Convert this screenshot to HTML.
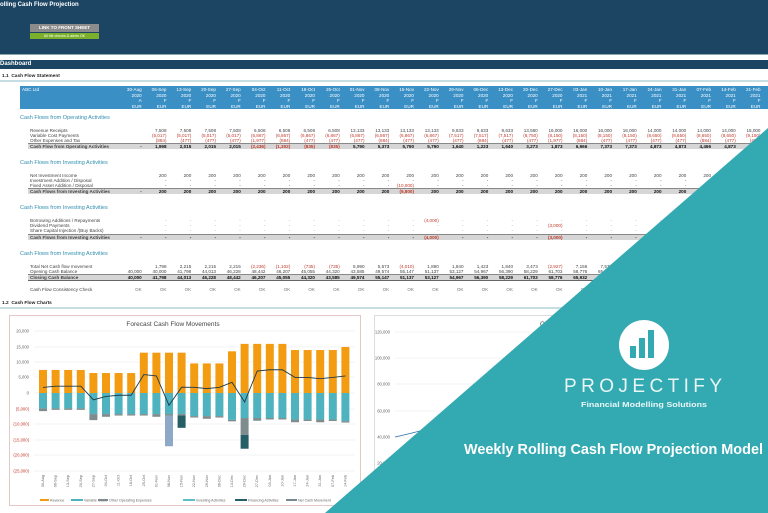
<!DOCTYPE html>
<html><head><meta charset="utf-8"><style>
*{margin:0;padding:0;box-sizing:border-box}
body{width:768px;height:513px;overflow:hidden;background:#fff;font-family:"Liberation Sans",sans-serif;position:relative}
.a{position:absolute}
.r{position:absolute;left:118px;display:flex;font-size:4.6px;line-height:5px;color:#444}
.r span{width:24.75px;text-align:right;flex:none;padding-right:1px}
.n{color:#c0392b}
.b{font-weight:bold;color:#111}
.lbl{position:absolute;left:30px;font-size:4.6px;line-height:5px;color:#444}
.sec{position:absolute;left:20px;font-size:5.5px;color:#2f8fb0}
.tot{position:absolute;left:28px;width:740px;height:6px;background:#d6d6d6;border-top:1px solid #888}
</style></head><body>
<div class="a" style="left:0;top:0;width:768px;height:55px;background:#1b4563;border-bottom:1px solid #8aa"></div>
<div class="a" style="left:0;top:2px;font-size:6px;font-weight:bold;color:#fff">olling Cash Flow Projection</div>
<div class="a" style="left:30px;top:24px;width:69px;height:8px;background:#8c8c8c;color:#fff;font-size:4.5px;font-weight:bold;text-align:center;line-height:8px">LINK TO FRONT SHEET</div>
<div class="a" style="left:30px;top:33px;width:69px;height:6px;background:#7cb02c;color:#fff;font-size:3.6px;text-align:center;line-height:6px">All file checks &amp; alerts OK</div>
<div class="a" style="left:0;top:60px;width:768px;height:9px;background:#1b4563;color:#fff;font-size:6px;font-weight:bold;line-height:9px">Dashboard</div>
<div class="a" style="left:2px;top:74px;font-size:4.8px;font-weight:bold;color:#222">1.1 &nbsp;Cash Flow Statement</div>
<div class="a" style="left:0;top:80px;width:768px;height:2px;background:#c7dde4"></div>
<div class="a" style="left:20px;top:86px;width:748px;height:23px;background:#3a8fc4"></div>
<div class="a" style="left:22px;top:87px;font-size:4.6px;color:#fff">ABC Ltd</div>
<div class="r" style="top:87px;color:#fff"><span>30-Aug</span><span>06-Sep</span><span>13-Sep</span><span>20-Sep</span><span>27-Sep</span><span>04-Oct</span><span>11-Oct</span><span>18-Oct</span><span>25-Oct</span><span>01-Nov</span><span>08-Nov</span><span>15-Nov</span><span>22-Nov</span><span>29-Nov</span><span>06-Dec</span><span>13-Dec</span><span>20-Dec</span><span>27-Dec</span><span>03-Jan</span><span>10-Jan</span><span>17-Jan</span><span>24-Jan</span><span>31-Jan</span><span>07-Feb</span><span>14-Feb</span><span>21-Feb</span></div>
<div class="r" style="top:92.5px;color:#fff"><span>2020</span><span>2020</span><span>2020</span><span>2020</span><span>2020</span><span>2020</span><span>2020</span><span>2020</span><span>2020</span><span>2020</span><span>2020</span><span>2020</span><span>2020</span><span>2020</span><span>2020</span><span>2020</span><span>2020</span><span>2020</span><span>2021</span><span>2021</span><span>2021</span><span>2021</span><span>2021</span><span>2021</span><span>2021</span><span>2021</span></div>
<div class="r" style="top:98px;color:#fff"><span>A</span><span>F</span><span>F</span><span>F</span><span>F</span><span>F</span><span>F</span><span>F</span><span>F</span><span>F</span><span>F</span><span>F</span><span>F</span><span>F</span><span>F</span><span>F</span><span>F</span><span>F</span><span>F</span><span>F</span><span>F</span><span>F</span><span>F</span><span>F</span><span>F</span><span>F</span></div>
<div class="r" style="top:103.5px;color:#fff"><span>EUR</span><span>EUR</span><span>EUR</span><span>EUR</span><span>EUR</span><span>EUR</span><span>EUR</span><span>EUR</span><span>EUR</span><span>EUR</span><span>EUR</span><span>EUR</span><span>EUR</span><span>EUR</span><span>EUR</span><span>EUR</span><span>EUR</span><span>EUR</span><span>EUR</span><span>EUR</span><span>EUR</span><span>EUR</span><span>EUR</span><span>EUR</span><span>EUR</span><span>EUR</span></div>

<div class="sec" style="top:115px">Cash Flows from Operating Activities</div>
<div class="lbl" style="top:128px">Revenue Receipts</div>
<div class="lbl" style="top:133px">Variable Cost Payments</div>
<div class="lbl" style="top:138px">Other Expenses and Tax</div>
<div class="tot" style="top:143px"></div>
<div class="lbl b" style="top:144px">Cash Flow from Operating Activities</div>
<div class="r" style="top:128px"><span></span><span>7,508</span><span>7,508</span><span>7,508</span><span>7,508</span><span>6,508</span><span>6,508</span><span>6,508</span><span>6,508</span><span>13,133</span><span>13,133</span><span>13,133</span><span>13,133</span><span>9,633</span><span>9,633</span><span>9,633</span><span>13,580</span><span>16,000</span><span>16,000</span><span>16,000</span><span>16,000</span><span>14,000</span><span>14,000</span><span>14,000</span><span>14,000</span><span>15,000</span></div>
<div class="r n" style="top:133px"><span></span><span>(5,017)</span><span>(5,017)</span><span>(5,017)</span><span>(5,017)</span><span>(6,867)</span><span>(6,867)</span><span>(6,867)</span><span>(6,867)</span><span>(6,867)</span><span>(6,867)</span><span>(6,867)</span><span>(6,867)</span><span>(7,517)</span><span>(7,517)</span><span>(7,517)</span><span>(8,750)</span><span>(8,150)</span><span>(8,150)</span><span>(8,150)</span><span>(8,150)</span><span>(8,650)</span><span>(8,650)</span><span>(8,650)</span><span>(8,650)</span><span>(9,150)</span></div>
<div class="r n" style="top:138px"><span></span><span>(884)</span><span>(477)</span><span>(477)</span><span>(477)</span><span>(1,977)</span><span>(884)</span><span>(477)</span><span>(477)</span><span>(477)</span><span>(884)</span><span>(477)</span><span>(477)</span><span>(477)</span><span>(884)</span><span>(477)</span><span>(477)</span><span>(1,977)</span><span>(884)</span><span>(477)</span><span>(477)</span><span>(477)</span><span>(477)</span><span>(884)</span><span>(477)</span><span>(477)</span></div>
<div class="r b" style="top:144px"><span>-</span><span>1,998</span><span>2,015</span><span>2,015</span><span>2,015</span><span class="n">(2,436)</span><span class="n">(1,302)</span><span class="n">(835)</span><span class="n">(835)</span><span>5,790</span><span>5,373</span><span>5,790</span><span>5,790</span><span>1,640</span><span>1,223</span><span>1,640</span><span>3,273</span><span>1,873</span><span>6,966</span><span>7,373</span><span>7,373</span><span>4,873</span><span>4,873</span><span>4,466</span><span>4,873</span><span>5,373</span></div>

<div class="sec" style="top:160px">Cash Flows from Investing Activities</div>
<div class="lbl" style="top:173px">Net Investment Income</div>
<div class="lbl" style="top:178px">Investment Addition / Disposal</div>
<div class="lbl" style="top:183px">Fixed Asset Addition / Disposal</div>
<div class="tot" style="top:188px"></div>
<div class="lbl b" style="top:189px">Cash Flows from Investing Activities</div>
<div class="r" style="top:173px"><span></span><span>200</span><span>200</span><span>200</span><span>200</span><span>200</span><span>200</span><span>200</span><span>200</span><span>200</span><span>200</span><span>200</span><span>200</span><span>200</span><span>200</span><span>200</span><span>200</span><span>200</span><span>200</span><span>200</span><span>200</span><span>200</span><span>200</span><span>200</span><span>200</span><span>200</span></div>
<div class="r" style="top:178px"><span></span><span>-</span><span>-</span><span>-</span><span>-</span><span>-</span><span>-</span><span>-</span><span>-</span><span>-</span><span>-</span><span>-</span><span>-</span><span>-</span><span>-</span><span>-</span><span>-</span><span>-</span><span>-</span><span>-</span><span>-</span><span>-</span><span>-</span><span>-</span><span>-</span><span>-</span></div>
<div class="r" style="top:183px"><span></span><span>-</span><span>-</span><span>-</span><span>-</span><span>-</span><span>-</span><span>-</span><span>-</span><span>-</span><span>-</span><span class="n">(10,000)</span><span>-</span><span>-</span><span>-</span><span>-</span><span>-</span><span>-</span><span>-</span><span>-</span><span>-</span><span>-</span><span>-</span><span>-</span><span>-</span><span>-</span></div>
<div class="r b" style="top:189px"><span>-</span><span>200</span><span>200</span><span>200</span><span>200</span><span>200</span><span>200</span><span>200</span><span>200</span><span>200</span><span>200</span><span class="n">(9,800)</span><span>200</span><span>200</span><span>200</span><span>200</span><span>200</span><span>200</span><span>200</span><span>200</span><span>200</span><span>200</span><span>200</span><span>200</span><span>200</span><span>200</span></div>

<div class="sec" style="top:205px">Cash Flows from Investing Activities</div>
<div class="lbl" style="top:218px">Borrowing Additions / Repayments</div>
<div class="lbl" style="top:223px">Dividend Payments</div>
<div class="lbl" style="top:228px">Share Capital Injection /(Buy Backs)</div>
<div class="tot" style="top:234px"></div>
<div class="lbl b" style="top:235px">Cash Flows from Investing Activities</div>
<div class="r" style="top:218px;color:#999"><span></span><span>-</span><span>-</span><span>-</span><span>-</span><span>-</span><span>-</span><span>-</span><span>-</span><span>-</span><span>-</span><span>-</span><span class="n">(4,000)</span><span>-</span><span>-</span><span>-</span><span>-</span><span>-</span><span>-</span><span>-</span><span>-</span><span>-</span><span>-</span><span>-</span><span>-</span><span>-</span></div>
<div class="r" style="top:223px;color:#999"><span></span><span>-</span><span>-</span><span>-</span><span>-</span><span>-</span><span>-</span><span>-</span><span>-</span><span>-</span><span>-</span><span>-</span><span>-</span><span>-</span><span>-</span><span>-</span><span>-</span><span class="n">(3,000)</span><span>-</span><span>-</span><span>-</span><span>-</span><span>-</span><span>-</span><span>-</span><span>-</span></div>
<div class="r" style="top:228px;color:#999"><span></span><span>-</span><span>-</span><span>-</span><span>-</span><span>-</span><span>-</span><span>-</span><span>-</span><span>-</span><span>-</span><span>-</span><span>-</span><span>-</span><span>-</span><span>-</span><span>-</span><span>-</span><span>-</span><span>-</span><span>-</span><span>-</span><span>-</span><span>-</span><span>-</span><span>-</span></div>
<div class="r b" style="top:235px"><span>-</span><span>-</span><span>-</span><span>-</span><span>-</span><span>-</span><span>-</span><span>-</span><span>-</span><span>-</span><span>-</span><span>-</span><span class="n">(4,000)</span><span>-</span><span>-</span><span>-</span><span>-</span><span class="n">(3,000)</span><span>-</span><span>-</span><span>-</span><span>-</span><span>-</span><span>-</span><span>-</span><span>-</span></div>

<div class="sec" style="top:251px">Cash Flows from Investing Activities</div>
<div class="lbl" style="top:264px">Total Net Cash flow movement</div>
<div class="lbl" style="top:269px">Opening Cash Balance</div>
<div class="tot" style="top:274px;border-bottom:1px solid #666;height:7px"></div>
<div class="lbl b" style="top:275px">Closing Cash Balance</div>
<div class="r" style="top:264px"><span></span><span>1,798</span><span>2,215</span><span>2,215</span><span>2,215</span><span class="n">(2,236)</span><span class="n">(1,102)</span><span class="n">(735)</span><span class="n">(735)</span><span>5,990</span><span>5,573</span><span class="n">(4,010)</span><span>1,890</span><span>1,840</span><span>1,423</span><span>1,840</span><span>3,473</span><span class="n">(2,927)</span><span>7,156</span><span>7,573</span><span>7,573</span><span>5,073</span><span>5,073</span><span>4,666</span><span>5,073</span><span>5,573</span></div>
<div class="r" style="top:269px"><span>40,000</span><span>40,000</span><span>41,798</span><span>44,013</span><span>46,228</span><span>48,442</span><span>46,207</span><span>45,055</span><span>44,320</span><span>43,585</span><span>49,574</span><span>55,147</span><span>51,137</span><span>53,127</span><span>54,967</span><span>56,390</span><span>58,229</span><span>61,703</span><span>58,776</span><span>65,932</span><span>73,505</span><span>81,078</span><span>86,151</span><span>91,224</span><span>95,890</span><span>100,963</span></div>
<div class="r b" style="top:275px"><span>40,000</span><span>41,798</span><span>44,013</span><span>46,228</span><span>48,442</span><span>46,207</span><span>45,055</span><span>44,320</span><span>43,585</span><span>49,574</span><span>55,147</span><span>51,137</span><span>53,127</span><span>54,967</span><span>56,390</span><span>58,229</span><span>61,703</span><span>58,776</span><span>65,932</span><span>73,505</span><span>81,078</span><span>86,151</span><span>91,224</span><span>95,890</span><span>100,963</span><span>106,536</span></div>
<div class="lbl" style="top:287px">Cash Flow Consistency Check</div>
<div class="r" style="top:287px;color:#777"><span>OK</span><span>OK</span><span>OK</span><span>OK</span><span>OK</span><span>OK</span><span>OK</span><span>OK</span><span>OK</span><span>OK</span><span>OK</span><span>OK</span><span>OK</span><span>OK</span><span>OK</span><span>OK</span><span>OK</span><span>OK</span><span>OK</span><span>OK</span><span>OK</span><span>OK</span><span>OK</span><span>OK</span><span>OK</span><span>OK</span></div>

<div class="a" style="left:2px;top:301px;font-size:4.8px;font-weight:bold;color:#222">1.2 &nbsp;Cash Flow Charts</div>
<div class="a" style="left:0;top:307px;width:768px;height:2px;background:#c7dde4"></div>

<svg class="a" style="left:0;top:0" width="768" height="513" font-family="Liberation Sans, sans-serif">
<rect x="9.5" y="315.5" width="351" height="190" fill="#fff" stroke="#e6c8c8"/>
<rect x="374.5" y="315.5" width="400" height="190" fill="#fff" stroke="#ddd"/>
<text x="173" y="326" font-size="6.5" text-anchor="middle" fill="#444">Forecast Cash Flow Movements</text>
<text x="540" y="326" font-size="6.5" fill="#444">Cash Balance</text>
<g stroke="#e8e8e8" stroke-width="0.6">
<line x1="34" x2="355" y1="331" y2="331"/><line x1="34" x2="355" y1="347" y2="347"/><line x1="34" x2="355" y1="362" y2="362"/><line x1="34" x2="355" y1="377" y2="377"/><line x1="34" x2="355" y1="393" y2="393"/><line x1="34" x2="355" y1="409" y2="409"/><line x1="34" x2="355" y1="424" y2="424"/><line x1="34" x2="355" y1="440" y2="440"/><line x1="34" x2="355" y1="455" y2="455"/><line x1="34" x2="355" y1="471" y2="471"/>
<line x1="395" x2="768" y1="332" y2="332"/><line x1="395" x2="768" y1="358" y2="358"/><line x1="395" x2="768" y1="384" y2="384"/><line x1="395" x2="768" y1="411" y2="411"/><line x1="395" x2="768" y1="437" y2="437"/><line x1="395" x2="768" y1="463" y2="463"/>
</g>
<g font-size="4.2" text-anchor="end" fill="#666">
<text x="29" y="332.5">20,000</text><text x="29" y="348.5">15,000</text><text x="29" y="363.5">10,000</text><text x="29" y="378.5">5,000</text><text x="29" y="394.5">0</text>
<g fill="#c0392b"><text x="29" y="410.5">(5,000)</text><text x="29" y="425.5">(10,000)</text><text x="29" y="441.5">(15,000)</text><text x="29" y="456.5">(20,000)</text><text x="29" y="472.5">(25,000)</text></g>
<text x="390" y="333.5">120,000</text><text x="390" y="359.5">100,000</text><text x="390" y="385.5">80,000</text><text x="390" y="412.5">60,000</text><text x="390" y="438.5">40,000</text><text x="390" y="464.5">20,000</text>
</g>
<polyline points="395,437 408,434 420,431 432,428 445,425" fill="none" stroke="#2e6da4" stroke-width="0.8"/>
<g id="bars"></g>
<g font-size="3.8" fill="#666" text-anchor="end">
<text transform="translate(44,475) rotate(-90)">30-Aug</text><text transform="translate(56.6,475) rotate(-90)">06-Sep</text><text transform="translate(69.2,475) rotate(-90)">13-Sep</text><text transform="translate(81.8,475) rotate(-90)">20-Sep</text><text transform="translate(94.4,475) rotate(-90)">27-Sep</text><text transform="translate(107,475) rotate(-90)">04-Oct</text><text transform="translate(119.6,475) rotate(-90)">11-Oct</text><text transform="translate(132.2,475) rotate(-90)">18-Oct</text><text transform="translate(144.8,475) rotate(-90)">25-Oct</text><text transform="translate(157.4,475) rotate(-90)">01-Nov</text><text transform="translate(170,475) rotate(-90)">08-Nov</text><text transform="translate(182.6,475) rotate(-90)">15-Nov</text><text transform="translate(195.2,475) rotate(-90)">22-Nov</text><text transform="translate(207.8,475) rotate(-90)">29-Nov</text><text transform="translate(220.4,475) rotate(-90)">06-Dec</text><text transform="translate(233,475) rotate(-90)">13-Dec</text><text transform="translate(245.6,475) rotate(-90)">20-Dec</text><text transform="translate(258.2,475) rotate(-90)">27-Dec</text><text transform="translate(270.8,475) rotate(-90)">03-Jan</text><text transform="translate(283.4,475) rotate(-90)">10-Jan</text><text transform="translate(296,475) rotate(-90)">17-Jan</text><text transform="translate(308.6,475) rotate(-90)">24-Jan</text><text transform="translate(321.2,475) rotate(-90)">31-Jan</text><text transform="translate(333.8,475) rotate(-90)">07-Feb</text><text transform="translate(346.4,475) rotate(-90)">14-Feb</text>
</g>
<g font-size="3.6" fill="#666">
<rect x="40" y="499" width="9" height="2" fill="#f39c12"/><text x="50" y="501.3">Revenue</text>
<rect x="71" y="499" width="12" height="2" fill="#4fb3bf"/><text x="84" y="501.3">Variable Costs</text>
<rect x="98" y="499" width="10" height="2" fill="#7f8c8d"/><text x="109" y="501.3">Other Operating Expenses</text>
<rect x="183" y="499" width="12" height="2" fill="#5cc0c4"/><text x="196" y="501.3">Investing Activities</text>
<rect x="235" y="499" width="12" height="2" fill="#245e66"/><text x="248" y="501.3">Financing Activities</text>
<rect x="286" y="499.4" width="11" height="1.2" fill="#1f3a4a"/><text x="298" y="501.3">Net Cash Movement</text>
</g>
<polygon points="768,128 768,513 325,513" fill="#33a9b2"/>
<circle cx="644" cy="345" r="25" fill="#fff"/>
<rect x="630" y="346" width="6" height="12" fill="#33a9b2"/>
<rect x="639" y="338" width="6" height="20" fill="#33a9b2"/>
<rect x="648" y="330" width="6" height="28" fill="#33a9b2"/>
<text x="564" y="392" font-size="19" fill="#eaf6f6" textLength="158" lengthAdjust="spacing">PROJECTIFY</text>
<text x="581" y="407" font-size="7.5" font-weight="bold" fill="#eaf6f6" textLength="126" lengthAdjust="spacingAndGlyphs">Financial Modelling Solutions</text>
<text x="464" y="454" font-size="15" font-weight="bold" fill="#fff" textLength="299" lengthAdjust="spacingAndGlyphs">Weekly Rolling Cash Flow Projection Model</text>
</svg>
<script>
(function(){
var rev=[7508,7508,7508,7508,6508,6508,6508,6508,13133,13133,13133,13133,9633,9633,9633,13580,16000,16000,16000,16000,14000,14000,14000,14000,15000];
var vc=[5017,5017,5017,5017,6867,6867,6867,6867,6867,6867,6867,6867,7517,7517,7517,8750,8150,8150,8150,8150,8650,8650,8650,8650,9150];
var ot=[884,477,477,477,1977,884,477,477,477,884,477,477,477,884,477,477,5500,884,477,477,884,477,884,477,477];
var inv=[0,0,0,0,0,0,0,0,0,0,10000,0,0,0,0,0,0,0,0,0,0,0,0,0,0];
var fin=[0,0,0,0,0,0,0,0,0,0,0,4000,0,0,0,0,4500,0,0,0,0,0,0,0,0];
var net=[1798,2215,2215,2215,-2236,-1102,-735,-735,5990,5573,-4010,1890,1840,1423,1840,3473,-2927,7156,7573,7573,5073,5073,4666,5073,5573];
var k=0.00307,z=393,s='',pts=[];
for(var i=0;i<25;i++){var cx=43+12.6*i,x=cx-4;
s+='<rect x="'+x+'" y="'+(z-rev[i]*k)+'" width="8" height="'+rev[i]*k+'" fill="#f39c12"/>';
var y=z;
[[vc[i],'#4fb3bf'],[ot[i],'#7f8c8d'],[inv[i],'#8ea9c8'],[fin[i],'#245e66']].forEach(function(p){if(p[0]){var h=p[0]*k;s+='<rect x="'+x+'" y="'+y+'" width="8" height="'+h+'" fill="'+p[1]+'"/>';y+=h;}});
pts.push(cx+','+(z-net[i]*k));}
s+='<polyline points="'+pts.join(' ')+'" fill="none" stroke="#1f3a4a" stroke-width="0.9"/>';
document.getElementById('bars').innerHTML=s;})();
</script>
</body></html>
